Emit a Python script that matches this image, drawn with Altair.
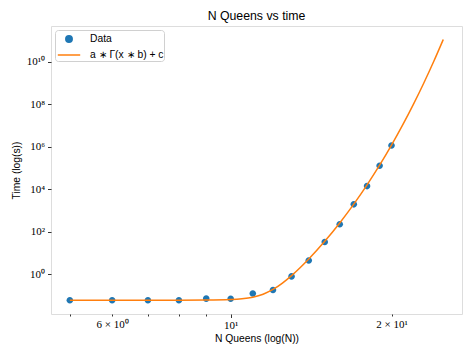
import altair as alt
import pandas as pd

# ---- data ----
n_queens = [5, 6, 7, 8, 9, 10, 11, 12, 13, 14, 15, 16, 17, 18, 19, 20]
time_s = [0.061, 0.061, 0.061, 0.061, 0.072, 0.071, 0.125, 0.182, 0.80, 4.5,
          33.0, 224.0, 1940.0, 14000.0, 126000.0, 1.14e6]

fit_n = [5, 6, 7, 8, 9, 10, 10.5, 11, 11.5, 12, 12.5, 13, 13.5, 14, 15, 16,
         17, 18, 19, 20, 21, 22, 23, 24, 25]
fit_time = [0.061, 0.061, 0.0611, 0.0612, 0.0619, 0.0655, 0.0713, 0.0847,
            0.1168, 0.195, 0.388, 0.871, 2.105, 5.30, 35.9, 260.6, 1990.0,
            15970.0, 134100.0, 1.177e6, 1.076e7, 1.023e8, 1.010e9, 1.034e10,
            1.095e11]

series_names = ["Data", "a ∗ Γ(x ∗ b) + c"]
series_colors = ["#1f77b4", "#ff7f0e"]

x_tick_values = [5, 6, 7, 8, 9, 10, 20]
x_tick_labels = ["", "6 × 10⁰", "", "", "", "10¹", "2 × 10¹"]
x_major_ticks = [10]

y_tick_exponents = [0, 2, 4, 6, 8, 10]
y_tick_labels = ["10⁰", "10²", "10⁴", "10⁶", "10⁸", "10¹⁰"]

# ---- build tables ----
df_data = pd.DataFrame({"n": n_queens, "t": time_s, "series": series_names[0]})
df_fit = pd.DataFrame({"n": fit_n, "t": fit_time, "series": series_names[1]})

y_tick_values = [10.0 ** e for e in y_tick_exponents]


def x_label_expr():
    parts = []
    for v, lab in zip(x_tick_values, x_tick_labels):
        if lab:
            parts.append(f"abs(datum.value - {v}) < 0.001 ? '{lab}'")
    return " : ".join(parts) + " : ''"


def y_label_expr():
    parts = []
    for e, lab in zip(y_tick_exponents, y_tick_labels):
        parts.append(f"abs(log(datum.value) / LN10 - {e}) < 0.01 ? '{lab}'")
    return " : ".join(parts) + " : ''"


major_test = " || ".join(f"abs(datum.value - {v}) < 0.001" for v in x_major_ticks)

x_scale = alt.Scale(type="log", domain=[4.61, 27.1], nice=False)
y_scale = alt.Scale(type="log", domain=[0.01368, 4.68e11], nice=False)

tick_font = "Liberation Serif"
text_font = "Liberation Sans"

x_axis = alt.Axis(
    values=x_tick_values,
    labelExpr=x_label_expr(),
    labelOverlap=False,
    labelFlush=False,
    labelFont=tick_font,
    labelFontSize=11,
    labelColor="#000000",
    labelPadding=2,
    tickSize={"condition": {"test": major_test, "value": 3.5}, "value": 2},
    tickColor="#000000",
    tickWidth=0.8,
    domain=False,
    grid=False,
    title="N Queens (log(N))",
    titleFont=text_font,
    titleFontSize=10.3,
    titleFontWeight="normal",
    titleColor="#000000",
    titlePadding=3,
)

y_axis = alt.Axis(
    values=y_tick_values,
    labelExpr=y_label_expr(),
    labelOverlap=False,
    labelFlush=False,
    labelFont=tick_font,
    labelFontSize=11,
    labelColor="#000000",
    labelPadding=3,
    tickSize=3.5,
    tickColor="#000000",
    tickWidth=0.8,
    domain=False,
    grid=False,
    title="Time (log(s))",
    titleFont=text_font,
    titleFontSize=10.3,
    titleFontWeight="normal",
    titleColor="#000000",
    titlePadding=5,
)

circle_path = "M-0.4,0A0.4,0.4 0 1,0 0.4,0A0.4,0.4 0 1,0 -0.4,0Z"
line_path = "M-1.4,0L1.4,0"

color_scale = alt.Scale(domain=series_names, range=series_colors)
shape_scale = alt.Scale(domain=series_names, range=[circle_path, line_path])

legend = alt.Legend(
    title=None,
    orient="top-left",
    offset=4,
    padding=0,
    fillColor="#ffffff",
    strokeColor="#d0d0d0",
    cornerRadius=3,
    symbolSize=256,
    symbolStrokeWidth=1.5,
    symbolOffset=5,
    labelOffset=12,
    rowPadding=-3,
    labelFont=text_font,
    labelFontSize=10.3,
    labelColor="#000000",
)

points = alt.Chart(df_data).mark_point(filled=True, size=270, opacity=1).encode(
    x=alt.X("n:Q", scale=x_scale, axis=x_axis),
    y=alt.Y("t:Q", scale=y_scale, axis=y_axis),
    color=alt.Color("series:N", scale=color_scale, legend=legend),
    shape=alt.Shape("series:N", scale=shape_scale, legend=legend),
)

line = alt.Chart(df_fit).mark_line(strokeWidth=1.5, interpolate="monotone").encode(
    x=alt.X("n:Q", scale=x_scale, axis=x_axis),
    y=alt.Y("t:Q", scale=y_scale, axis=y_axis),
    color=alt.Color("series:N", scale=color_scale, legend=legend),
)

chart = alt.layer(points, line).properties(
    width=411,
    height=288,
    padding={"left": 43, "top": 18, "right": 4, "bottom": 33},
    autosize=alt.AutoSizeParams(type="none"),
    title=alt.TitleParams(
        "N Queens vs time",
        font=text_font,
        fontSize=12.3,
        fontWeight="normal",
        color="#000000",
        anchor="middle",
        frame="group",
        baseline="alphabetic",
        offset=0,
        dy=6,
    ),
).configure_view(stroke="#222222", strokeWidth=1).configure(background="#ffffff")

chart.save("out.html", embed_options={"renderer": "svg", "actions": False})
